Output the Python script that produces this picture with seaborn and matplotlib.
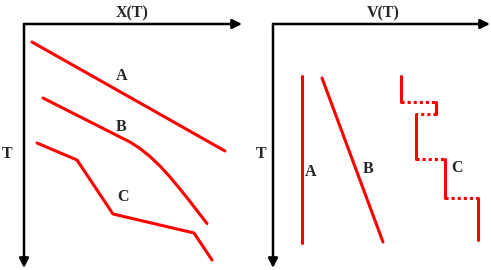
import pandas as pd
import seaborn as sns
import matplotlib.pyplot as plt

# values (pixel-like units, T grows downward)
xa_x = [8, 201]
xa_t = [18, 127]
xb_x = [19, 96, 106, 116, 126, 136, 146, 156, 166, 176, 183]
xb_t = [74, 113, 118, 124.5, 132.5, 142, 153, 165, 177.5, 190.5, 199.5]
xc_x = [13, 53, 89, 170, 188]
xc_t = [119, 136, 190, 209, 236]

va_v = [29, 29]
va_t = [52, 219]
vb_v = [49, 110]
vb_t = [54, 218]
vc_v = [128, 128, 163, 163, 143, 143, 172, 172, 205, 205]
vc_t = [52, 78, 78, 90, 90, 135, 135, 174, 174, 216]

RED = "#ff0000"
LW = 2.2

sns.set_style("white")
W, H = 491, 270
fig = plt.figure(figsize=(W / 100, H / 100), dpi=100)


def make_axes(x0, x1, y0, y1):
    ax = fig.add_axes([x0 / W, 1 - y1 / H, (x1 - x0) / W, (y1 - y0) / H])
    ax.set_xlim(0, x1 - x0)
    ax.set_ylim(y1 - y0, 0)
    for s in ax.spines.values():
        s.set_visible(False)
    ax.set_xticks([])
    ax.set_yticks([])
    ax.patch.set_alpha(0)
    arrow = dict(arrowstyle="-|>", color="black", lw=1.8, mutation_scale=14,
                 shrinkA=0, shrinkB=0)
    ax.annotate("", xy=(1, 1), xytext=(0, 1), xycoords="axes fraction", arrowprops=arrow)
    ax.annotate("", xy=(0, 0), xytext=(0, 1), xycoords="axes fraction", arrowprops=arrow)
    return ax


font = dict(family="Liberation Serif", fontweight="bold", fontsize=11.5,
            ha="center", va="center")

# left panel: X(T)
ax1 = make_axes(24, 242, 24, 268)
for xs, ts in [(xa_x, xa_t), (xb_x, xb_t), (xc_x, xc_t)]:
    sns.lineplot(x=xs, y=ts, ax=ax1, sort=False, estimator=None, color=RED, lw=LW)
ax1.text(108, -11, "X(T)", clip_on=False, **font)
ax1.text(-17, 130, "T", clip_on=False, **font)
ax1.text(98, 52, "A", **font)
ax1.text(97, 103, "B", **font)
ax1.text(99, 173, "C", **font)

# right panel: V(T)
ax2 = make_axes(273, 490, 24, 268)
sns.lineplot(x=va_v, y=va_t, ax=ax2, sort=False, estimator=None, color=RED, lw=LW)
sns.lineplot(x=vb_v, y=vb_t, ax=ax2, sort=False, estimator=None, color=RED, lw=LW)
segs = []
for i in range(len(vc_v) - 1):
    kind = "solid" if i % 2 == 0 else "dot"
    segs.append(pd.DataFrame({"v": vc_v[i:i + 2], "t": vc_t[i:i + 2], "seg": i, "kind": kind}))
cdf = pd.concat(segs, ignore_index=True)
sns.lineplot(data=cdf[cdf.kind == "solid"], x="v", y="t", units="seg", ax=ax2,
             sort=False, estimator=None, color=RED, lw=LW)
sns.lineplot(data=cdf[cdf.kind == "dot"], x="v", y="t", units="seg", ax=ax2,
             sort=False, estimator=None, color=RED, lw=LW, linestyle=(0, (1, 1)))
ax2.text(110, -11, "V(T)", clip_on=False, **font)
ax2.text(-12, 130, "T", clip_on=False, **font)
ax2.text(38, 148, "A", **font)
ax2.text(95, 145, "B", **font)
ax2.text(184, 144, "C", **font)
ax2.set_xlabel("")
ax2.set_ylabel("")
ax1.set_xlabel("")
ax1.set_ylabel("")

fig.savefig("out.png", dpi=100)
